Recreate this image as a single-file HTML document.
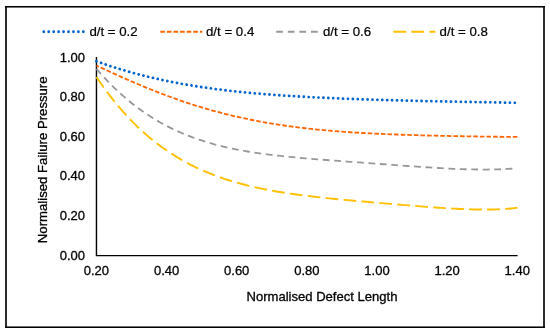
<!DOCTYPE html>
<html><head><meta charset="utf-8"><title>Chart</title>
<style>
html,body{margin:0;padding:0;background:#fff;}
svg{display:block;}
text{font-family:"Liberation Sans",sans-serif;font-size:13.10px;fill:#000;stroke:#000;stroke-width:0.22px;}
.lg{font-size:13.25px}
.tk{font-size:13.0px;stroke-width:0.3px}
.ti{font-size:13.07px;stroke-width:0.3px}
</style></head><body>
<svg width="550" height="332" viewBox="0 0 550 332">
<rect x="0" y="0" width="550" height="332" fill="#fff"/>
<rect x="5" y="6" width="2" height="322" fill="#2c2c2c"/>
<rect x="543" y="6" width="2" height="322" fill="#2c2c2c"/>
<rect x="5" y="6" width="540" height="1.55" fill="#000"/>
<rect x="5" y="326.45" width="540" height="1.55" fill="#000"/>
<path d="M96.45,57 L96.45,255.6 L517.6,255.6" fill="none" stroke="#000" stroke-width="1.4"/>
<path d="M96.45,61.29 L99.48,62.37 L102.51,63.43 L105.54,64.46 L108.56,65.47 L111.59,66.46 L114.62,67.43 L117.65,68.38 L120.68,69.30 L123.71,70.20 L126.73,71.09 L129.76,71.95 L132.79,72.79 L135.82,73.61 L138.85,74.41 L141.88,75.19 L144.90,75.95 L147.93,76.70 L150.96,77.42 L153.99,78.13 L157.02,78.81 L160.05,79.48 L163.08,80.14 L166.10,80.77 L169.13,81.39 L172.16,82.00 L175.19,82.58 L178.22,83.15 L181.25,83.71 L184.27,84.25 L187.30,84.77 L190.33,85.28 L193.36,85.78 L196.39,86.26 L199.42,86.73 L202.44,87.19 L205.47,87.63 L208.50,88.06 L211.53,88.48 L214.56,88.89 L217.59,89.28 L220.62,89.66 L223.64,90.04 L226.67,90.40 L229.70,90.75 L232.73,91.09 L235.76,91.42 L238.79,91.74 L241.81,92.05 L244.84,92.35 L247.87,92.65 L250.90,92.93 L253.93,93.21 L256.96,93.48 L259.98,93.74 L263.01,93.99 L266.04,94.23 L269.07,94.47 L272.10,94.70 L275.13,94.93 L278.16,95.15 L281.18,95.36 L284.21,95.57 L287.24,95.77 L290.27,95.96 L293.30,96.15 L296.33,96.33 L299.35,96.51 L302.38,96.69 L305.41,96.86 L308.44,97.02 L311.47,97.18 L314.50,97.34 L317.52,97.49 L320.55,97.64 L323.58,97.78 L326.61,97.92 L329.64,98.06 L332.67,98.19 L335.69,98.32 L338.72,98.45 L341.75,98.57 L344.78,98.69 L347.81,98.81 L350.84,98.92 L353.87,99.04 L356.89,99.15 L359.92,99.25 L362.95,99.36 L365.98,99.46 L369.01,99.56 L372.04,99.66 L375.06,99.76 L378.09,99.85 L381.12,99.94 L384.15,100.03 L387.18,100.12 L390.21,100.21 L393.23,100.29 L396.26,100.37 L399.29,100.45 L402.32,100.53 L405.35,100.61 L408.38,100.69 L411.41,100.76 L414.43,100.83 L417.46,100.91 L420.49,100.98 L423.52,101.04 L426.55,101.11 L429.58,101.18 L432.60,101.24 L435.63,101.31 L438.66,101.37 L441.69,101.43 L444.72,101.49 L447.75,101.55 L450.77,101.61 L453.80,101.67 L456.83,101.73 L459.86,101.79 L462.89,101.84 L465.92,101.90 L468.95,101.95 L471.97,102.01 L475.00,102.06 L478.03,102.12 L481.06,102.17 L484.09,102.23 L487.12,102.28 L490.14,102.34 L493.17,102.39 L496.20,102.45 L499.23,102.50 L502.26,102.56 L505.29,102.62 L508.31,102.68 L511.34,102.74 L514.37,102.81 L517.40,102.87" fill="none" stroke="#0062CC" stroke-width="2.8" stroke-linecap="round" stroke-dasharray="0.01 4.9"/>
<path d="M96.45,65.53 L99.48,66.94 L102.51,68.35 L105.54,69.75 L108.56,71.14 L111.59,72.53 L114.62,73.91 L117.65,75.28 L120.68,76.64 L123.71,77.98 L126.73,79.32 L129.76,80.65 L132.79,81.96 L135.82,83.25 L138.85,84.54 L141.88,85.81 L144.90,87.06 L147.93,88.30 L150.96,89.53 L153.99,90.73 L157.02,91.93 L160.05,93.10 L163.08,94.26 L166.10,95.40 L169.13,96.52 L172.16,97.62 L175.19,98.71 L178.22,99.78 L181.25,100.82 L184.27,101.85 L187.30,102.87 L190.33,103.86 L193.36,104.83 L196.39,105.79 L199.42,106.72 L202.44,107.64 L205.47,108.53 L208.50,109.41 L211.53,110.27 L214.56,111.11 L217.59,111.93 L220.62,112.73 L223.64,113.52 L226.67,114.28 L229.70,115.03 L232.73,115.76 L235.76,116.47 L238.79,117.16 L241.81,117.83 L244.84,118.49 L247.87,119.13 L250.90,119.75 L253.93,120.35 L256.96,120.94 L259.98,121.51 L263.01,122.06 L266.04,122.60 L269.07,123.12 L272.10,123.63 L275.13,124.12 L278.16,124.60 L281.18,125.06 L284.21,125.50 L287.24,125.94 L290.27,126.35 L293.30,126.76 L296.33,127.15 L299.35,127.53 L302.38,127.89 L305.41,128.25 L308.44,128.59 L311.47,128.91 L314.50,129.23 L317.52,129.54 L320.55,129.83 L323.58,130.12 L326.61,130.39 L329.64,130.65 L332.67,130.91 L335.69,131.15 L338.72,131.39 L341.75,131.62 L344.78,131.84 L347.81,132.05 L350.84,132.25 L353.87,132.44 L356.89,132.63 L359.92,132.81 L362.95,132.98 L365.98,133.15 L369.01,133.31 L372.04,133.46 L375.06,133.61 L378.09,133.76 L381.12,133.89 L384.15,134.03 L387.18,134.15 L390.21,134.28 L393.23,134.40 L396.26,134.51 L399.29,134.62 L402.32,134.73 L405.35,134.83 L408.38,134.93 L411.41,135.03 L414.43,135.12 L417.46,135.21 L420.49,135.30 L423.52,135.38 L426.55,135.47 L429.58,135.54 L432.60,135.62 L435.63,135.70 L438.66,135.77 L441.69,135.84 L444.72,135.91 L447.75,135.97 L450.77,136.04 L453.80,136.10 L456.83,136.16 L459.86,136.21 L462.89,136.27 L465.92,136.32 L468.95,136.37 L471.97,136.42 L475.00,136.47 L478.03,136.52 L481.06,136.56 L484.09,136.60 L487.12,136.63 L490.14,136.67 L493.17,136.70 L496.20,136.73 L499.23,136.76 L502.26,136.78 L505.29,136.80 L508.31,136.81 L511.34,136.83 L514.37,136.83 L517.40,136.84" fill="none" stroke="#FF6600" stroke-width="1.8" stroke-dasharray="4.6 2" stroke-dashoffset="2.0"/>
<path d="M96.45,68.87 L99.47,72.33 L102.50,75.69 L105.52,78.95 L108.54,82.10 L111.56,85.15 L114.59,88.11 L117.61,90.97 L120.63,93.74 L123.65,96.42 L126.68,99.01 L129.70,101.52 L132.72,103.94 L135.74,106.27 L138.77,108.53 L141.79,110.71 L144.81,112.81 L147.84,114.84 L150.86,116.79 L153.88,118.68 L156.90,120.49 L159.93,122.24 L162.95,123.93 L165.97,125.55 L168.99,127.11 L172.02,128.61 L175.04,130.05 L178.06,131.44 L181.08,132.77 L184.11,134.05 L187.13,135.28 L190.15,136.46 L193.18,137.59 L196.20,138.67 L199.22,139.71 L202.24,140.71 L205.27,141.67 L208.29,142.59 L211.31,143.46 L214.33,144.30 L217.36,145.11 L220.38,145.88 L223.40,146.62 L226.42,147.32 L229.45,148.00 L232.47,148.65 L235.49,149.27 L238.52,149.86 L241.54,150.42 L244.56,150.97 L247.58,151.49 L250.61,151.98 L253.63,152.46 L256.65,152.92 L259.67,153.36 L262.70,153.78 L265.72,154.18 L268.74,154.57 L271.76,154.94 L274.79,155.30 L277.81,155.65 L280.83,155.98 L283.86,156.30 L286.88,156.61 L289.90,156.92 L292.92,157.21 L295.95,157.49 L298.97,157.77 L301.99,158.04 L305.01,158.30 L308.04,158.56 L311.06,158.81 L314.08,159.05 L317.10,159.30 L320.13,159.54 L323.15,159.77 L326.17,160.00 L329.19,160.23 L332.22,160.46 L335.24,160.69 L338.26,160.91 L341.29,161.13 L344.31,161.36 L347.33,161.58 L350.35,161.80 L353.38,162.02 L356.40,162.24 L359.42,162.46 L362.44,162.68 L365.47,162.90 L368.49,163.12 L371.51,163.35 L374.53,163.57 L377.56,163.79 L380.58,164.01 L383.60,164.23 L386.63,164.46 L389.65,164.68 L392.67,164.90 L395.69,165.12 L398.72,165.34 L401.74,165.56 L404.76,165.78 L407.78,166.00 L410.81,166.21 L413.83,166.42 L416.85,166.63 L419.87,166.84 L422.90,167.04 L425.92,167.24 L428.94,167.44 L431.97,167.63 L434.99,167.82 L438.01,168.00 L441.03,168.17 L444.06,168.34 L447.08,168.49 L450.10,168.64 L453.12,168.79 L456.15,168.92 L459.17,169.04 L462.19,169.15 L465.21,169.25 L468.24,169.33 L471.26,169.41 L474.28,169.47 L477.31,169.51 L480.33,169.54 L483.35,169.55 L486.37,169.54 L489.40,169.52 L492.42,169.47 L495.44,169.41 L498.46,169.32 L501.49,169.21 L504.51,169.08 L507.53,168.92 L510.55,168.74 L513.58,168.53 L516.60,168.29" fill="none" stroke="#989898" stroke-width="1.8" stroke-dasharray="6.8 4.65"/>
<path d="M96.45,77.02 L99.48,81.48 L102.51,85.79 L105.54,89.97 L108.56,94.02 L111.59,97.94 L114.62,101.73 L117.65,105.40 L120.68,108.96 L123.71,112.40 L126.73,115.72 L129.76,118.94 L132.79,122.05 L135.82,125.06 L138.85,127.97 L141.88,130.78 L144.90,133.50 L147.93,136.12 L150.96,138.65 L153.99,141.10 L157.02,143.47 L160.05,145.75 L163.08,147.95 L166.10,150.07 L169.13,152.12 L172.16,154.10 L175.19,156.01 L178.22,157.85 L181.25,159.62 L184.27,161.33 L187.30,162.97 L190.33,164.56 L193.36,166.09 L196.39,167.56 L199.42,168.97 L202.44,170.34 L205.47,171.65 L208.50,172.91 L211.53,174.13 L214.56,175.30 L217.59,176.42 L220.62,177.50 L223.64,178.54 L226.67,179.54 L229.70,180.51 L232.73,181.43 L235.76,182.32 L238.79,183.17 L241.81,184.00 L244.84,184.79 L247.87,185.55 L250.90,186.28 L253.93,186.98 L256.96,187.66 L259.98,188.31 L263.01,188.93 L266.04,189.53 L269.07,190.11 L272.10,190.67 L275.13,191.21 L278.16,191.73 L281.18,192.23 L284.21,192.71 L287.24,193.18 L290.27,193.63 L293.30,194.06 L296.33,194.48 L299.35,194.89 L302.38,195.29 L305.41,195.67 L308.44,196.04 L311.47,196.40 L314.50,196.76 L317.52,197.10 L320.55,197.43 L323.58,197.76 L326.61,198.08 L329.64,198.40 L332.67,198.70 L335.69,199.01 L338.72,199.30 L341.75,199.59 L344.78,199.88 L347.81,200.17 L350.84,200.45 L353.87,200.72 L356.89,201.00 L359.92,201.27 L362.95,201.54 L365.98,201.81 L369.01,202.07 L372.04,202.34 L375.06,202.60 L378.09,202.86 L381.12,203.12 L384.15,203.38 L387.18,203.64 L390.21,203.89 L393.23,204.15 L396.26,204.40 L399.29,204.66 L402.32,204.91 L405.35,205.16 L408.38,205.40 L411.41,205.65 L414.43,205.89 L417.46,206.13 L420.49,206.37 L423.52,206.60 L426.55,206.83 L429.58,207.06 L432.60,207.28 L435.63,207.50 L438.66,207.70 L441.69,207.91 L444.72,208.10 L447.75,208.29 L450.77,208.46 L453.80,208.63 L456.83,208.79 L459.86,208.93 L462.89,209.07 L465.92,209.19 L468.95,209.29 L471.97,209.38 L475.00,209.45 L478.03,209.50 L481.06,209.54 L484.09,209.55 L487.12,209.54 L490.14,209.50 L493.17,209.44 L496.20,209.35 L499.23,209.23 L502.26,209.09 L505.29,208.90 L508.31,208.69 L511.34,208.44 L514.37,208.15 L517.40,207.81" fill="none" stroke="#FFC000" stroke-width="1.9" stroke-dasharray="12.7 5.3"/>
<text x="85" y="259.80" text-anchor="end" class="tk">0.00</text>
<text x="85" y="220.14" text-anchor="end" class="tk">0.20</text>
<text x="85" y="180.48" text-anchor="end" class="tk">0.40</text>
<text x="85" y="140.82" text-anchor="end" class="tk">0.60</text>
<text x="85" y="101.16" text-anchor="end" class="tk">0.80</text>
<text x="85" y="61.50" text-anchor="end" class="tk">1.00</text>
<text x="96.45" y="275.2" text-anchor="middle" class="tk">0.20</text>
<text x="166.58" y="275.2" text-anchor="middle" class="tk">0.40</text>
<text x="236.71" y="275.2" text-anchor="middle" class="tk">0.60</text>
<text x="306.84" y="275.2" text-anchor="middle" class="tk">0.80</text>
<text x="376.97" y="275.2" text-anchor="middle" class="tk">1.00</text>
<text x="447.10" y="275.2" text-anchor="middle" class="tk">1.20</text>
<text x="517.23" y="275.2" text-anchor="middle" class="tk">1.40</text>
<text x="322" y="301.2" text-anchor="middle" class="ti">Normalised Defect Length</text>
<text transform="translate(47.3,159.8) rotate(-90)" text-anchor="middle" class="ti" style="font-size:13.17px">Normalised Failure Pressure</text>
<path d="M43.800000000000004,31.75 H85.6" fill="none" stroke="#0062CC" stroke-width="2.8" stroke-linecap="round" stroke-dasharray="0.01 4.93"/>
<path d="M160.3,31.75 H202.3" fill="none" stroke="#FF6600" stroke-width="1.85" stroke-dasharray="4.6 2"/>
<path d="M276.2,31.75 H318.2" fill="none" stroke="#989898" stroke-width="1.8" stroke-dasharray="6.7 4.9"/>
<path d="M393.4,31.75 H435.4" fill="none" stroke="#FFC000" stroke-width="1.9" stroke-dasharray="12.7 5.3"/>
<text x="89.40" y="36" class="lg">d/t = 0.2</text>
<text x="206.00" y="36" class="lg">d/t = 0.4</text>
<text x="322.90" y="36" class="lg">d/t = 0.6</text>
<text x="439.60" y="36" class="lg">d/t = 0.8</text>
</svg>
</body></html>
